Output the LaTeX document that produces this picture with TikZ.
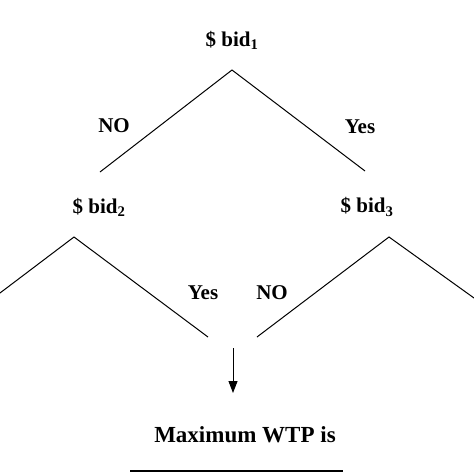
\documentclass[tikz,border=0pt]{standalone}
\usepackage{fontspec}
\setmainfont{Liberation Serif}
\usetikzlibrary{arrows.meta}
\begin{document}
\begin{tikzpicture}[x=1pt,y=-1pt,
  lbl/.style={font=\fontsize{21}{24}\selectfont\bfseries, inner sep=0pt},
  biglbl/.style={font=\fontsize{23}{26}\selectfont\bfseries, inner sep=0pt},
  branch/.style={line width=1pt, black},
  arr/.style={line width=1pt, -{Triangle[length=12pt,width=9pt]}}]
\useasboundingbox (0,0) rectangle (474,474);
% labels
\node[lbl] (b1) at (232,40) {\$ bid\textsubscript{1}};
\node[lbl] (b2) at (99,207) {\$ bid\textsubscript{2}};
\node[lbl] (b3) at (367,207) {\$ bid\textsubscript{3}};
\node[lbl] (no1) at (114,126) {NO};
\node[lbl] (yes1) at (360,127) {Yes};
\node[lbl] (yes2) at (203,293) {Yes};
\node[lbl] (no2) at (272,293) {NO};
\node[biglbl] (max) at (245,435) {Maximum WTP is};
% branch points
\coordinate (a1) at (232,70);
\coordinate (a1l) at (100,172);
\coordinate (a1r) at (365,171);
\coordinate (a2) at (74,237);
\coordinate (a2l) at (0,293);
\coordinate (a2r) at (208,337);
\coordinate (a3) at (389,237);
\coordinate (a3l) at (257,337);
\coordinate (a3r) at (474,298);
\coordinate (s) at (233,348);
\coordinate (t) at (233,393);
\coordinate (u1) at (130,471);
\coordinate (u2) at (343,471);
% lines
\draw[branch] (a1l) -- (a1) -- (a1r);
\draw[branch] (a2l) -- (a2) -- (a2r);
\draw[branch] (a3l) -- (a3) -- (a3r);
\draw[arr] (s) -- (t);
\draw[line width=2.5pt] (u1) -- (u2);
\end{tikzpicture}
\end{document}
